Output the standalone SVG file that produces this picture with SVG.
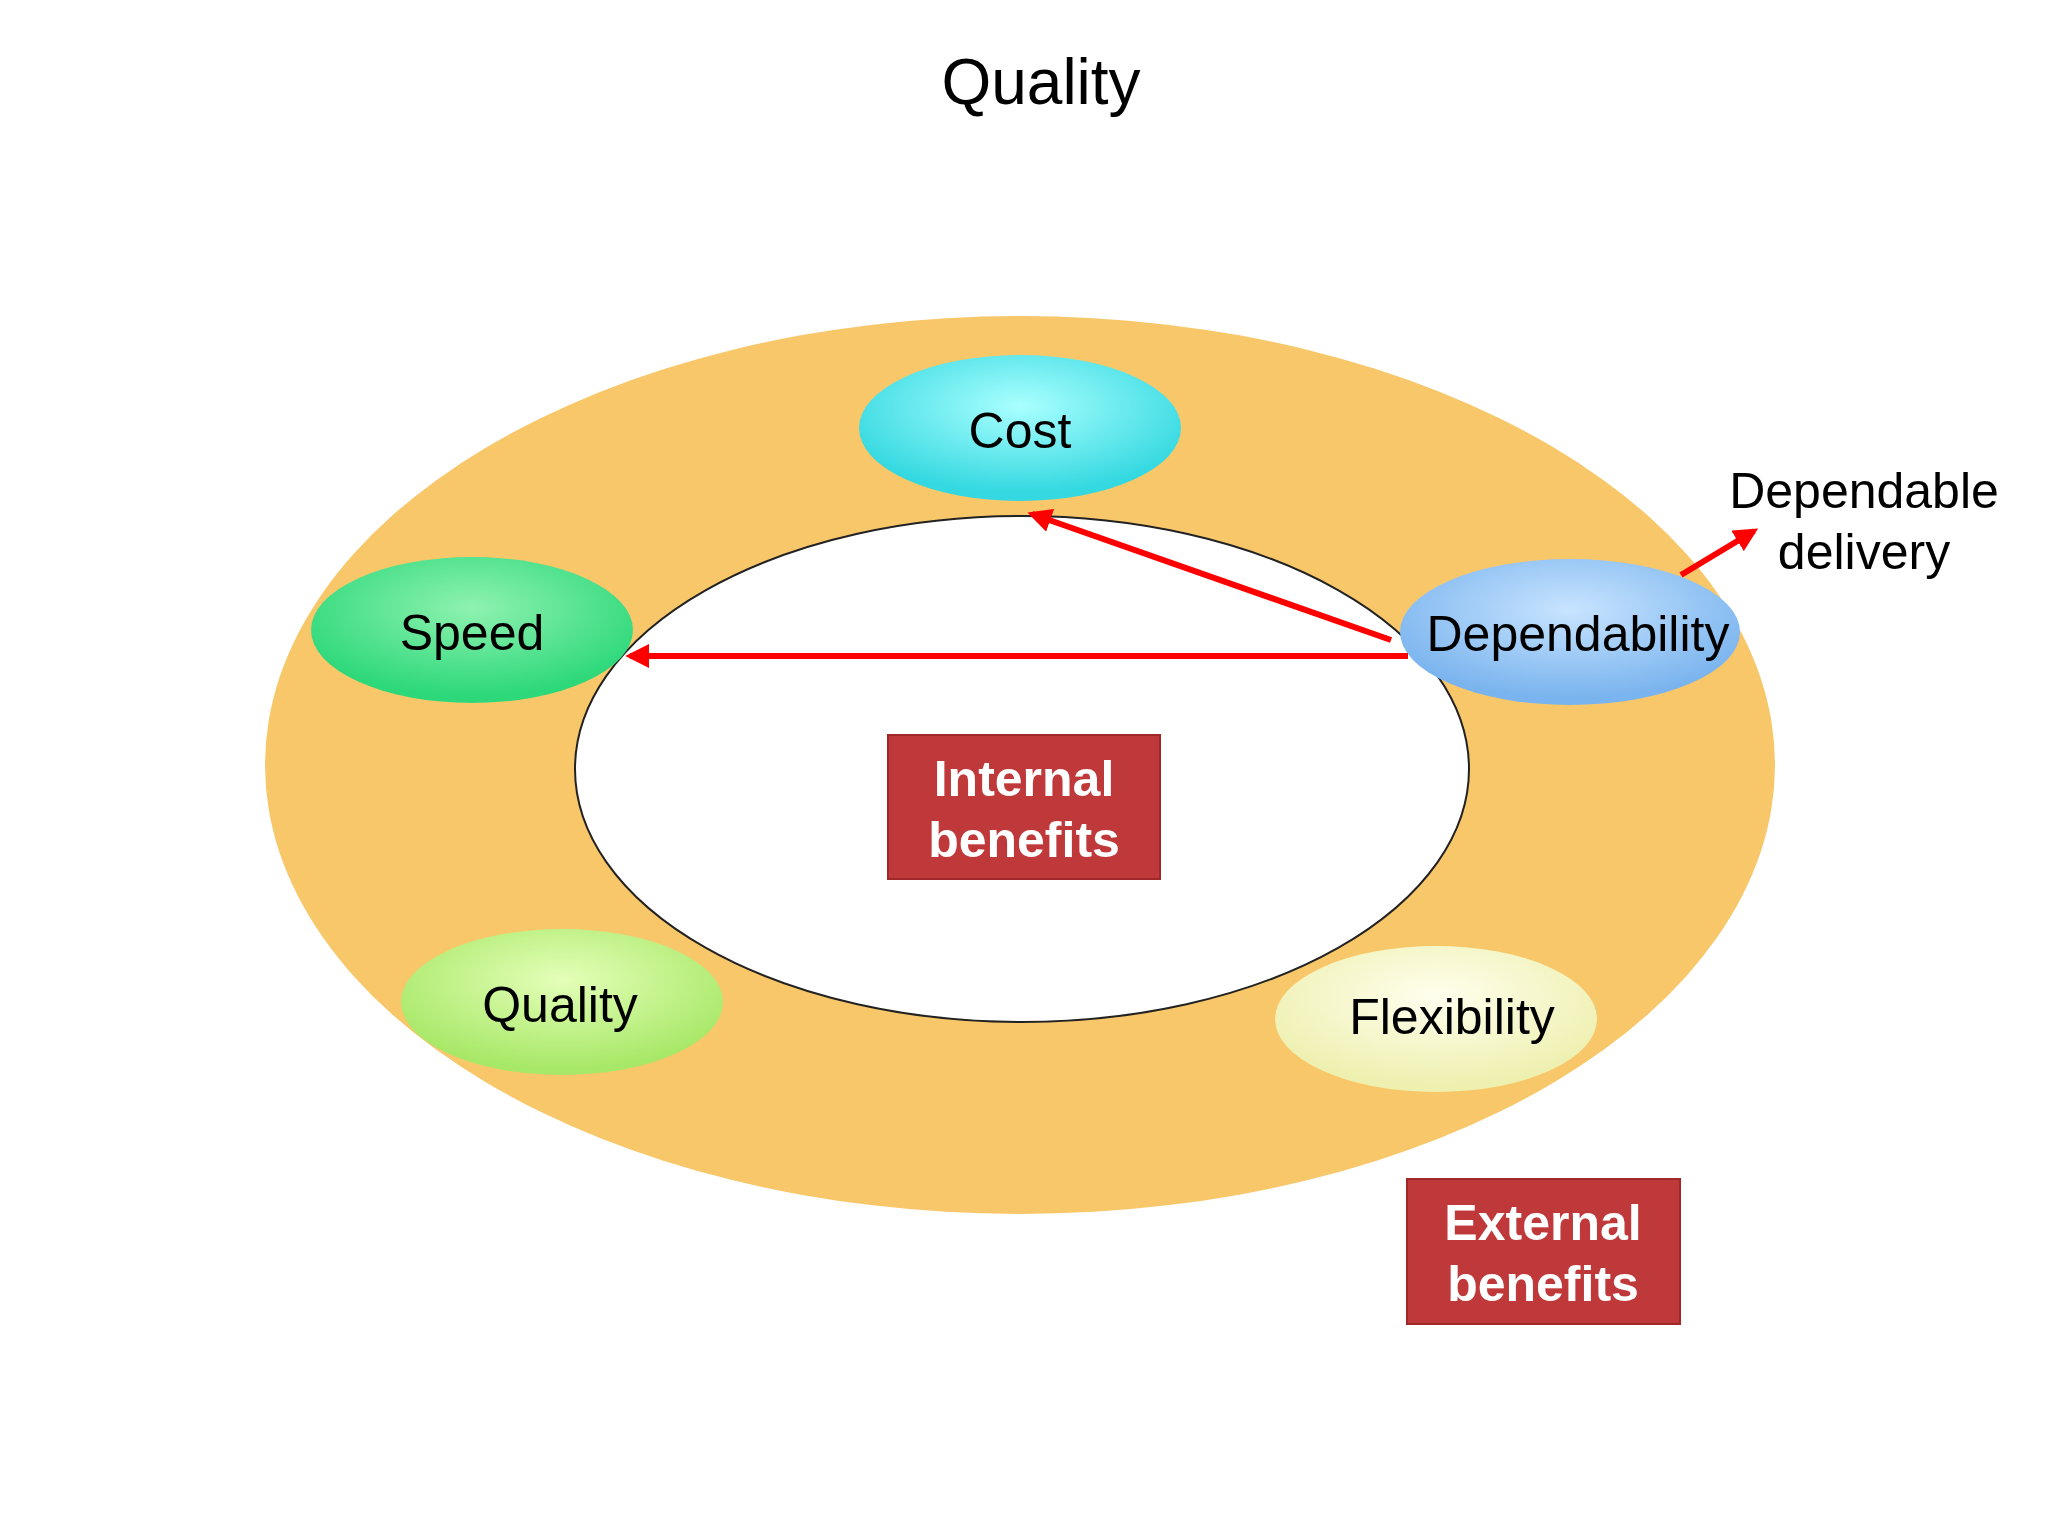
<svg xmlns="http://www.w3.org/2000/svg" width="2048" height="1536" viewBox="0 0 2048 1536">
<defs>
<style>
text{font-family:"Liberation Sans",Arial,sans-serif;text-anchor:middle}
.n{font-size:50px;fill:#000}
.b{font-size:50px;font-weight:bold;fill:#fff}
.box{fill:#c0393a;stroke:#a02828;stroke-width:2}
.a{stroke:#ff0000;stroke-width:6;fill:none;marker-end:url(#ah)}
</style>
<marker id="ah" viewBox="0 0 10 10" refX="8" refY="5" markerWidth="4" markerHeight="4" orient="auto"><path d="M0,0L10,5L0,10z" fill="#ff0000"/></marker>
<radialGradient id="gc" cx="0.5" cy="0.35" r="0.6"><stop offset="0" stop-color="#aaffff"/><stop offset="1" stop-color="#33d8e0"/></radialGradient>
<radialGradient id="gs" cx="0.5" cy="0.35" r="0.6"><stop offset="0" stop-color="#8ff2b0"/><stop offset="1" stop-color="#2dd87a"/></radialGradient>
<radialGradient id="gd" cx="0.5" cy="0.35" r="0.6"><stop offset="0" stop-color="#c8e4ff"/><stop offset="1" stop-color="#7ab4ee"/></radialGradient>
<radialGradient id="gq" cx="0.5" cy="0.35" r="0.6"><stop offset="0" stop-color="#e4ffb8"/><stop offset="1" stop-color="#a8e868"/></radialGradient>
<radialGradient id="gf" cx="0.5" cy="0.35" r="0.6"><stop offset="0" stop-color="#ffffee"/><stop offset="1" stop-color="#eef0b0"/></radialGradient>
</defs>
<rect width="2048" height="1536" fill="#fff"/>
<text x="1041" y="104" style="font-size:64px">Quality</text>
<g id="ring">
<ellipse cx="1020" cy="765" rx="755" ry="449" fill="#f8c76a"/>
<ellipse cx="1022" cy="769" rx="447" ry="253" fill="#fff" stroke="#222" stroke-width="2"/>
</g>
<g id="cost"><ellipse cx="1020" cy="428" rx="161" ry="73" fill="url(#gc)"/><text class="n" x="1020" y="448">Cost</text></g>
<g id="speed"><ellipse cx="472" cy="630" rx="161" ry="73" fill="url(#gs)"/><text class="n" x="472" y="650">Speed</text></g>
<g id="dependability"><ellipse cx="1570" cy="632" rx="170" ry="73" fill="url(#gd)"/><text class="n" x="1578" y="651">Dependability</text></g>
<g id="quality"><ellipse cx="562" cy="1002" rx="161" ry="73" fill="url(#gq)"/><text class="n" x="560" y="1022">Quality</text></g>
<g id="flexibility"><ellipse cx="1436" cy="1019" rx="161" ry="73" fill="url(#gf)"/><text class="n" x="1452" y="1034">Flexibility</text></g>
<g id="internal"><rect class="box" x="888" y="735" width="272" height="144"/><text class="b" x="1024" y="796">Internal</text><text class="b" x="1024" y="857">benefits</text></g>
<g id="external"><rect class="box" x="1407" y="1179" width="273" height="145"/><text class="b" x="1543" y="1240">External</text><text class="b" x="1543" y="1301">benefits</text></g>
<g id="delivery"><text class="n" x="1864" y="508">Dependable</text><text class="n" x="1864" y="569">delivery</text></g>
<g id="connectors">
<path class="a" d="M1391,640L1032,514"/>
<path class="a" d="M1408,656L630,656"/>
<path class="a" d="M1681,575L1754,531"/>
</g>
</svg>
